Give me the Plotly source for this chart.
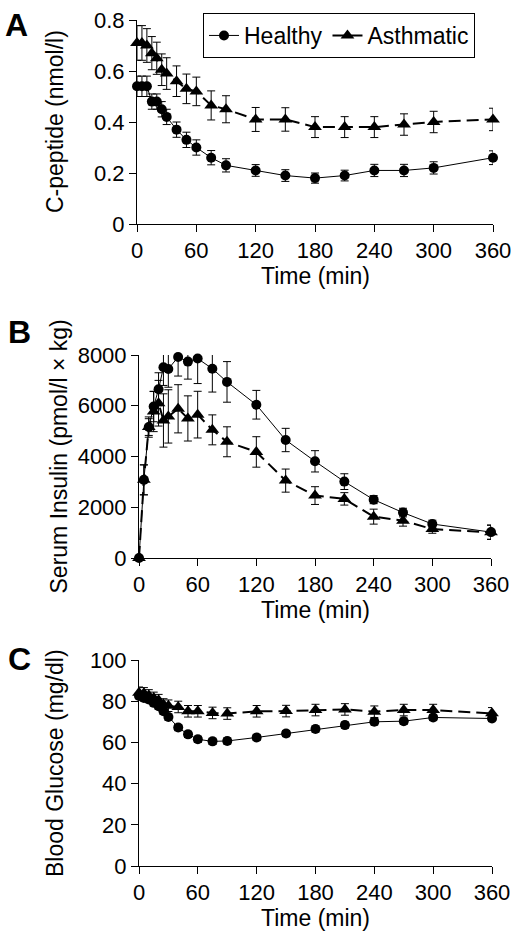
import plotly.graph_objects as go

# sampling times (min)
time = [0, 5, 10, 15, 20, 25, 30, 40, 50, 60, 75, 90, 120, 150, 180, 210, 240, 270, 300, 360]

# Panel A: C-peptide (nmol/l)
cpep_healthy = [0.54, 0.54, 0.54, 0.48, 0.48, 0.45, 0.42, 0.37, 0.33, 0.30, 0.26, 0.23,
                0.21, 0.19, 0.18, 0.19, 0.21, 0.21, 0.22, 0.26]
cpep_healthy_err = [0.04, 0.04, 0.04, 0.03, 0.03, 0.03, 0.03, 0.03, 0.03, 0.03, 0.028, 0.026,
                    0.023, 0.023, 0.02, 0.021, 0.024, 0.024, 0.024, 0.027]
cpep_asthma = [0.71, 0.71, 0.70, 0.67, 0.65, 0.605, 0.59, 0.56, 0.53, 0.52, 0.465, 0.45,
               0.41, 0.41, 0.38, 0.38, 0.38, 0.39, 0.40, 0.41]
cpep_asthma_err = [0.068, 0.068, 0.066, 0.065, 0.063, 0.062, 0.062, 0.06, 0.058, 0.056, 0.057, 0.053,
                   0.047, 0.046, 0.041, 0.041, 0.041, 0.042, 0.042, 0.044]

# Panel B: serum insulin (pmol/l x kg)
ins_healthy = [0, 3080, 5160, 5970, 6650, 7520, 7450, 7920, 7740, 7860, 7460, 6940,
               6040, 4650, 3810, 3010, 2300, 1790, 1340, 1020]
ins_healthy_err = [0, 590, 330, 600, 650, 720, 720, 750, 690, 985, 920, 800,
                   565, 460, 420, 310, 160, 170, 150, 280]
ins_asthma = [0, 3080, 5160, 5770, 6100, 5420, 5580, 5880, 5500, 5650, 5050, 4580,
              4180, 3050, 2460, 2330, 1630, 1470, 1140, 1010]
ins_asthma_err = [0, 590, 400, 790, 900, 1050, 1050, 950, 890, 920, 590, 590,
                  600, 455, 350, 245, 295, 215, 165, 280]

# Panel C: blood glucose (mg/dl)
glu_healthy = [82.5, 81.6, 80.8, 79.2, 77.6, 75.1, 72.3, 67.2, 63.9, 61.5, 60.5, 60.7,
               62.4, 64.3, 66.5, 68.4, 70.0, 70.3, 72.1, 71.6]
glu_healthy_err = [1.5] * 20
glu_asthma = [84.1, 83.8, 82.8, 81.6, 80.5, 78.4, 77.8, 77.2, 75.1, 75.1, 74.3, 74.0,
              75.1, 75.2, 75.7, 76.0, 74.9, 75.7, 75.7, 74.1]
glu_asthma_err = [2.8] * 20

panels = [
    ("A", cpep_healthy, cpep_healthy_err, cpep_asthma, cpep_asthma_err,
     "C-peptide (nmol/l)", [0, 0.8], [0, 0.2, 0.4, 0.6, 0.8], ["0", "0.2", "0.4", "0.6", "0.8"]),
    ("B", ins_healthy, ins_healthy_err, ins_asthma, ins_asthma_err,
     "Serum Insulin (pmol/l × kg)", [0, 8000], [0, 2000, 4000, 6000, 8000],
     ["0", "2000", "4000", "6000", "8000"]),
    ("C", glu_healthy, glu_healthy_err, glu_asthma, glu_asthma_err,
     "Blood Glucose (mg/dl)", [0, 100], [0, 20, 40, 60, 80, 100],
     ["0", "20", "40", "60", "80", "100"]),
]

W, H = 520, 931
# plot areas in pixels: (left, right, top, bottom)
boxes = [(137, 493, 20, 224), (139, 491, 355, 558), (139, 492, 660, 866)]
letter_pos = [(16, 25), (19, 332), (19, 659)]
ytitle_x = [55, 58, 55]

fig = go.Figure()
anns = []
for i, (letter, h, he, a, ae, ytitle, yr, yt, ytl) in enumerate(panels):
    n = "" if i == 0 else str(i + 1)
    xa, ya = "x" + n, "y" + n
    fig.add_trace(go.Scatter(
        x=time, y=h, name="Healthy", mode="lines+markers", xaxis=xa, yaxis=ya,
        line=dict(color="black", width=1),
        marker=dict(symbol="circle", size=10, color="black"),
        error_y=dict(type="data", array=he, color="black", thickness=1, width=4),
        cliponaxis=False, showlegend=(i == 0)))
    fig.add_trace(go.Scatter(
        x=time, y=a, name="Asthmatic", mode="lines+markers", xaxis=xa, yaxis=ya,
        line=dict(color="black", width=2, dash="12px,6px"),
        marker=dict(symbol="triangle-up", size=12, color="black"),
        error_y=dict(type="data", array=ae, color="black", thickness=1, width=4),
        cliponaxis=False, showlegend=(i == 0)))

    l, r, t, b = boxes[i]
    axis_common = dict(showline=True, linecolor="black", linewidth=1, ticks="outside",
                       ticklen=7, tickcolor="black", tickwidth=1, showgrid=False,
                       zeroline=False, tickfont=dict(size=22), automargin=False)
    fig.layout["xaxis" + n] = dict(
        axis_common, domain=[l / W, r / W], anchor=ya, range=[0, 360],
        tickvals=[0, 60, 120, 180, 240, 300, 360])
    fig.layout["yaxis" + n] = dict(
        axis_common, domain=[1 - b / H, 1 - t / H], anchor=xa, range=yr,
        tickvals=yt, ticktext=ytl)

    anns.append(dict(text=ytitle, textangle=-90, x=ytitle_x[i] / W, y=1 - (t + b) / 2 / H,
                     xref="paper", yref="paper", showarrow=False, font=dict(size=23),
                     xanchor="center", yanchor="middle"))
    anns.append(dict(text="Time (min)", x=(l + r) / 2 / W, y=1 - (b + 52) / H,
                     xref="paper", yref="paper", showarrow=False, font=dict(size=23),
                     xanchor="center", yanchor="middle"))
    lx, ly = letter_pos[i]
    anns.append(dict(text="<b>" + letter + "</b>", x=lx / W, y=1 - ly / H,
                     xref="paper", yref="paper", showarrow=False, font=dict(size=32),
                     xanchor="center", yanchor="middle"))

fig.update_layout(
    width=W, height=H,
    margin=dict(l=0, r=0, t=0, b=0),
    template="simple_white",
    font=dict(family="Liberation Sans, Arial, sans-serif", size=22, color="black"),
    plot_bgcolor="white", paper_bgcolor="white",
    annotations=anns,
    legend=dict(orientation="h", x=203 / W, y=1 - 13 / H, xanchor="left", yanchor="top",
                bordercolor="black", borderwidth=1, bgcolor="white",
                font=dict(size=23), itemwidth=30, tracegroupgap=0),
)

# drop the page's default body margin so the 520x931 figure fits the window exactly
fig.write_html("out.html", config={"displayModeBar": False},
               post_script="document.body.style.margin='0';")
